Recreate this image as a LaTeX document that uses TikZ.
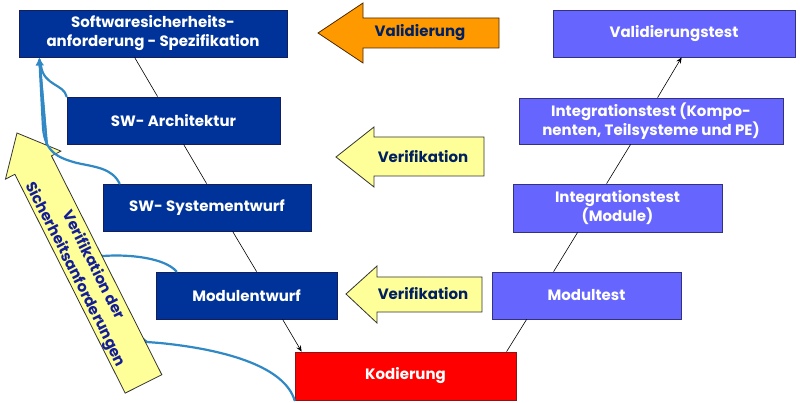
\documentclass[tikz,border=0pt]{standalone}
\usepackage{fontspec}
\setmainfont{Poppins}
\usetikzlibrary{calc,arrows.meta}
\definecolor{dblue}{RGB}{0,51,153}
\definecolor{dblueline}{RGB}{20,30,90}
\definecolor{vblue}{RGB}{102,102,255}
\definecolor{vblueline}{RGB}{50,50,130}
\definecolor{kred}{RGB}{255,0,0}
\definecolor{kredline}{RGB}{140,20,20}
\definecolor{aorange}{RGB}{255,153,0}
\definecolor{ayellow}{RGB}{255,255,153}
\definecolor{navytext}{RGB}{0,32,96}
\definecolor{diagtext}{RGB}{20,30,150}
\definecolor{curveblue}{RGB}{48,136,196}
\newcommand\myfs{\fontsize{15}{19}\selectfont}
\newcommand\mydiagfs{\fontsize{15}{20}\selectfont}
\begin{document}
\begin{tikzpicture}[x=1pt,y=-1pt,
  boxbase/.style={draw, line width=0.8pt, text=white, font=\bfseries\myfs, align=center,
    inner sep=0pt, minimum height=47pt},
  dbox/.style={boxbase, fill=dblue, draw=dblueline},
  vbox/.style={boxbase, fill=vblue, draw=vblueline},
  rbox/.style={boxbase, fill=kred, draw=kredline},
  conn/.style={draw=black, line width=0.6pt},
  connarrow/.style={conn, -{Stealth[length=6pt,width=5pt]}},
  bigorange/.style={draw=black!70!orange, line width=0.8pt, fill=aorange, line join=miter},
  bigyellow/.style={draw=black!80, line width=0.8pt, fill=ayellow, line join=miter},
  atext/.style={text=navytext, font=\bfseries\myfs, inner sep=0pt},
  bl/.style={draw=curveblue, line width=2.2pt, line cap=round, line join=round},
  blarrow/.style={bl, -{Latex[length=8pt,width=9pt]}}
]
\useasboundingbox (0,0) rectangle (800,403);
\fill[white] (0,0) rectangle (800,403);

% boxes
\node[dbox, minimum width=268pt] (spec) at (153,33.5) {Softwaresicherheits-\\anforderung - Spezifikation};
\node[dbox, minimum width=213pt] (arch) at (173.5,120.5) {SW- Architektur};
\node[dbox, minimum width=208pt] (sys) at (207,207.5) {SW- Systementwurf};
\node[dbox, minimum width=181pt] (mod) at (246.5,295.5) {Modulentwurf};
\node[rbox, minimum width=221pt, minimum height=48pt] (kod) at (405.5,376) {Kodierung};
\node[vbox, minimum width=189pt] (modt) at (586.5,295.5) {Modultest};
\node[vbox, minimum width=209pt, minimum height=48pt] (intm) at (617.5,208) {Integrationstest\\(Module)};
\node[vbox, minimum width=264pt, minimum height=46pt] (intk) at (651,121) {Integrationstest (Kompo-\\nenten, Teilsysteme und PE)};
\node[vbox, minimum width=242pt] (val) at (674,33.5) {Validierungstest};

% V connectors
\draw[conn] ($(spec.south west)+(116,0)$) -- ($(arch.north west)+(91,0)$);
\draw[conn] ($(arch.south west)+(117,0)$) -- ($(sys.north west)+(104,0)$);
\draw[conn] ($(sys.south west)+(130,0)$) -- ($(mod.north west)+(101,0)$);
\draw[connarrow] ($(mod.south west)+(127,0)$) -- ($(kod.north west)+(7,0)$);
\draw[conn] ($(kod.north west)+(212,0)$) -- ($(modt.south west)+(35,0)$);
\draw[conn] ($(modt.north west)+(62,0)$) -- ($(intm.south west)+(65,0)$);
\draw[conn] ($(intm.north west)+(94,0)$) -- ($(intk.south west)+(112,0)$);
\draw[connarrow] ($(intk.north west)+(139,0)$) -- ($(val.south west)+(129,0)$);

% big horizontal arrows
\draw[bigorange] (318,33) -- (363,3) -- (363,18) -- (499,18) -- (499,48) -- (363,48) -- (363,63) -- cycle;
\node[atext] (valtxt) at (420,33) {Validierung};
\draw[bigyellow] (336,157) -- (374,127) -- (374,137) -- (484,137) -- (484,176) -- (374,176) -- (374,187) -- cycle;
\node[atext] (ver1) at (423,157) {Verifikation};
\draw[bigyellow] (346,294) -- (377,266) -- (377,277) -- (482,277) -- (482,312) -- (377,312) -- (377,323) -- cycle;
\node[atext] (ver2) at (423,294) {Verifikation};

% blue curves passing behind the diagonal arrow
\draw[bl] ($(mod.north west)+(21,0)$) .. controls (165,258) and (130,254) .. (103,256)
   -- (75,249) -- (44,187) -- (47,147) -- (39.5,60);
\draw[bl] (kod.south west) .. controls (285,368) and (230,350) .. (160,343) -- (147,342)
   -- (107,311) -- (75,249) -- (44,187) -- (47,147) -- (39.5,60);

% diagonal arrow
\draw[bigyellow] (17,133) -- (60.9,151.1) -- (51.5,155.9) -- (161.8,374.7) -- (125.2,393.1)
   -- (14.9,174.3) -- (5.5,179.1) -- cycle;
\node[text=diagtext, font=\bfseries\mydiagfs, align=center, inner sep=0pt, rotate=-63.3] (diag) at (84,270)
   {Verifikation der\\Sicherheitsanforderungen};

% blue curves in front
\draw[bl] (arch.north west) .. controls (64,84) and (44,86) .. (41,66) -- (39.5,60);
\draw[blarrow] ($(sys.north west)+(17,0)$) .. controls (112,168) and (95,167) .. (77,163)
   .. controls (58,158) and (45,152) .. (43,128) -- (39.3,57.5);
\end{tikzpicture}
\end{document}
